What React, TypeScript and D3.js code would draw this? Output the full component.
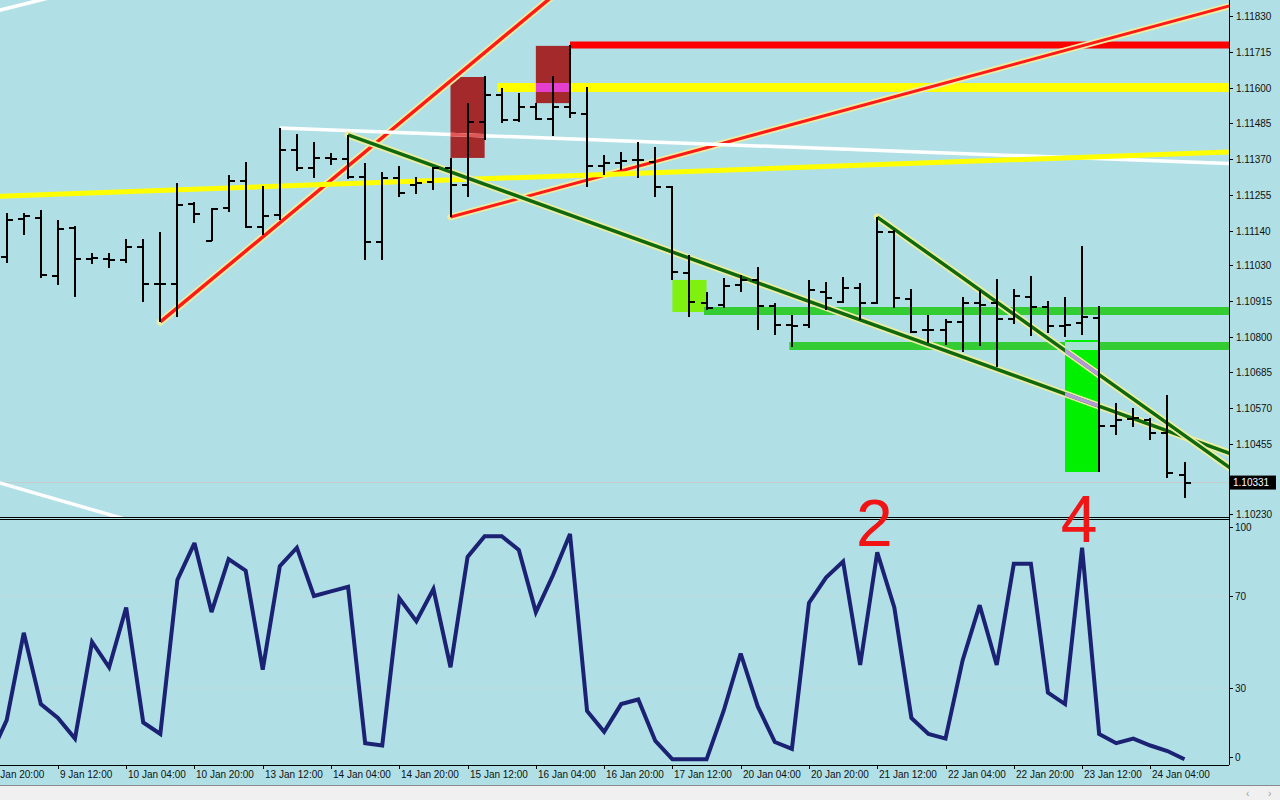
import React from 'react';
import * as d3 from 'd3';

// EURUSD H4 bars, 9 Jan 00:00 .. 24 Jan 08:00
const opens = [
  1.11056, 1.11178, 1.11181, 1.10995, 1.11149, 1.11049, 1.11049, 1.11046, 1.11088, 1.10969,
  1.10969, 1.11226, 1.11107, 1.11213, 1.11300, 1.11152, 1.11191, 1.11399, 1.11342, 1.11374,
  1.11371, 1.11313, 1.11104, 1.11310, 1.11287, 1.11297, 1.11342, 1.11287, 1.11489, 1.11576,
  1.11496, 1.11538, 1.11499, 1.11538, 1.11515, 1.11348, 1.11358, 1.11367, 1.11361, 1.11281,
  1.11004, 1.10908, 1.10901, 1.10966, 1.10982, 1.10898, 1.10837, 1.10837, 1.10943, 1.10911,
  1.10956, 1.10908, 1.11136, 1.10921, 1.10821, 1.10821, 1.10847, 1.10908, 1.10908, 1.10856,
  1.10927, 1.10895, 1.10834, 1.10844, 1.10860, 1.10513, 1.10535, 1.10532, 1.10490, 1.10355,
];
const highs = [
  1.11197, 1.11197, 1.11207, 1.11175, 1.11155, 1.11069, 1.11069, 1.11114, 1.11114, 1.11136,
  1.11293, 1.11232, 1.11213, 1.11319, 1.11361, 1.11284, 1.11470, 1.11451, 1.11425, 1.11390,
  1.11448, 1.11358, 1.11329, 1.11348, 1.11313, 1.11345, 1.11374, 1.11550, 1.11637, 1.11599,
  1.11583, 1.11550, 1.11637, 1.11737, 1.11602, 1.11383, 1.11393, 1.11425, 1.11409, 1.11284,
  1.11062, 1.10943, 1.10988, 1.10998, 1.11024, 1.10908, 1.10869, 1.10982, 1.10975, 1.10991,
  1.10972, 1.11184, 1.11142, 1.10953, 1.10869, 1.10856, 1.10927, 1.10950, 1.10985, 1.10953,
  1.10995, 1.10914, 1.10927, 1.11091, 1.10898, 1.10587, 1.10570, 1.10538, 1.10612, 1.10397,
];
const lows = [
  1.11036, 1.11126, 1.10988, 1.10966, 1.10927, 1.11033, 1.11020, 1.11036, 1.10911, 1.10847,
  1.10863, 1.11165, 1.11107, 1.11200, 1.11149, 1.11126, 1.11175, 1.11332, 1.11310, 1.11351,
  1.11306, 1.11046, 1.11046, 1.11248, 1.11258, 1.11271, 1.11184, 1.11248, 1.11432, 1.11486,
  1.11489, 1.11496, 1.11444, 1.11502, 1.11281, 1.11319, 1.11335, 1.11310, 1.11248, 1.10982,
  1.10863, 1.10885, 1.10892, 1.10943, 1.10821, 1.10805, 1.10766, 1.10828, 1.10885, 1.10908,
  1.10853, 1.10905, 1.10892, 1.10811, 1.10779, 1.10773, 1.10750, 1.10770, 1.10702, 1.10840,
  1.10802, 1.10811, 1.10799, 1.10805, 1.10365, 1.10484, 1.10509, 1.10468, 1.10346, 1.10281,
];
const closes = [
  1.11175, 1.11187, 1.10998, 1.11146, 1.11049, 1.11052, 1.11046, 1.11088, 1.10969, 1.10969,
  1.11223, 1.11194, 1.11210, 1.11300, 1.11152, 1.11187, 1.11399, 1.11342, 1.11374, 1.11371,
  1.11313, 1.11104, 1.11310, 1.11261, 1.11293, 1.11342, 1.11287, 1.11489, 1.11576, 1.11496,
  1.11538, 1.11499, 1.11538, 1.11518, 1.11348, 1.11358, 1.11364, 1.11367, 1.11281, 1.11007,
  1.10911, 1.10892, 1.10962, 1.10982, 1.10898, 1.10837, 1.10834, 1.10950, 1.10924, 1.10956,
  1.10908, 1.11136, 1.10924, 1.10815, 1.10821, 1.10847, 1.10908, 1.10901, 1.10856, 1.10930,
  1.10895, 1.10834, 1.10837, 1.10863, 1.10513, 1.10532, 1.10538, 1.10490, 1.10362, 1.10331,
];
const lastPrice = 1.10331;

// oscillator in the lower window; first value is the bar just left of the view
const stochStart = -1;
const stoch = [
  0,
  16, 54, 23, 17, 8, 50, 39, 65, 15, 10,
  77, 93, 63, 86, 81, 38, 83, 91, 70, 72,
  74, 6, 5, 69, 59, 73, 39, 87, 96, 96,
  90, 63, 79, 97, 20, 11, 23, 25, 7, -1,
  -1, -1, 20, 45, 22, 6.5, 3.5, 67, 78, 85,
  40, 89, 65, 17, 10, 8, 42, 66, 40, 84,
  84, 28, 23, 91, 10, 6, 8, 5, 2.6, -1,
];

const timeTickBars = [-1, 3, 7, 11, 15, 19, 23, 27, 31, 35, 39, 43, 47, 51, 55, 59, 63, 67];
const timeTickLabels = [
  '8 Jan 20:00', '9 Jan 12:00', '10 Jan 04:00', '10 Jan 20:00', '13 Jan 12:00', '14 Jan 04:00',
  '14 Jan 20:00', '15 Jan 12:00', '16 Jan 04:00', '16 Jan 20:00', '17 Jan 12:00', '20 Jan 04:00',
  '20 Jan 20:00', '21 Jan 12:00', '22 Jan 04:00', '22 Jan 20:00', '23 Jan 12:00', '24 Jan 04:00',
];
const priceTicks = [
  '1.11830', '1.11715', '1.11600', '1.11485', '1.11370', '1.11255', '1.11140',
  '1.11030', '1.10915', '1.10800', '1.10685', '1.10570', '1.10455', '1.10230',
];
const subTicks = [100, 70, 30, 0];
const subLevels = [70, 30];

// drawn objects, anchors are [bar index, price]
const trendNames = ['redUp', 'redSupport', 'whiteTop', 'whiteLow', 'whiteCorner', 'yellowSlope', 'greenFall', 'greenFast'];
const trendFrom = [[9, 1.10847], [26, 1.11184], [16, 1.1147], [-2, 1.10355], [-2, 1.11827], [-2, 1.11248], [20, 1.11448], [51, 1.11184]];
const trendTo = [[26.5, 1.11644], [71.6, 1.11862], [71.6, 1.11356], [6.52, 1.1022], [1.95, 1.11881], [71.6, 1.11393], [71.6, 1.10426], [71.6, 1.10381]];

const levelNames = ['resistance', 'supply', 'demandHi', 'demandLo'];
const levelPrice = [1.11737, 1.116, 1.10882, 1.1077];
const levelFromBar = [33, 28.75, 40.85, 45.85];

const boxNames = ['brownA', 'brownB', 'limeBox', 'greenBox'];
const boxFromBar = [26, 31, 39, 62];
const boxToBar = [28, 33, 41, 64];
const boxTop = [1.11634, 1.11734, 1.10982, 1.10789];
const boxBottom = [1.11374, 1.1155, 1.10879, 1.10365];

const markText = ['2', '4'];
const markBar = [51, 63];

const trendStyle: Record<string, { color: string; width: number; halo: boolean }> = {
  redUp: { color: '#ff1a1a', width: 3.5, halo: true },
  redSupport: { color: '#ff1a1a', width: 3, halo: true },
  whiteTop: { color: '#ffffff', width: 3.5, halo: false },
  whiteLow: { color: '#ffffff', width: 3.5, halo: false },
  whiteCorner: { color: '#ffffff', width: 3.5, halo: false },
  yellowSlope: { color: '#ffff00', width: 5, halo: false },
  greenFall: { color: '#0f6a0f', width: 3.5, halo: true },
  greenFast: { color: '#0f6a0f', width: 3.5, halo: true },
};
const levelStyle: Record<string, { color: string; width: number }> = {
  resistance: { color: '#ff0000', width: 7 },
  supply: { color: '#ffff00', width: 9 },
  demandHi: { color: '#33cc33', width: 8 },
  demandLo: { color: '#33cc33', width: 8 },
};
const boxColor: Record<string, string> = {
  brownA: '#a3292b',
  brownB: '#a3292b',
  limeBox: '#80f010',
  greenBox: '#00f000',
};

const BG = '#b0e0e6';
const FONT = "'Liberation Sans', Arial, sans-serif";

export default function App() {
  const W = 1280;
  const H = 800;
  const plotRight = 1229;
  const mainBottom = 517;
  const subTop = 519;
  const subBottom = 765;

  const x = d3.scaleLinear().domain([0, 69]).range([6.7, 1184.5]);
  const y = d3.scaleLinear().domain([1.1023, 1.1183]).range([514, 16]);
  const ys = d3.scaleLinear().domain([0, 100]).range([757, 527]);

  const seg = (k: number) => {
    const [i1, p1] = trendFrom[k];
    const [i2, p2] = trendTo[k];
    const x1 = x(i1), y1 = y(p1), x2 = x(i2), y2 = y(p2);
    const slope = (y2 - y1) / (x2 - x1);
    const xe = plotRight + 30;
    return { x1, y1, x2: xe, y2: y1 + slope * (xe - x1) };
  };

  const boxRect = (k: number) => ({
    x: x(boxFromBar[k]),
    y: y(boxTop[k]),
    width: x(boxToBar[k]) - x(boxFromBar[k]),
    height: y(boxBottom[k]) - y(boxTop[k]),
  });

  const barPath = opens
    .map((o, i) => {
      const cx = Math.round(x(i));
      return `M${cx},${y(highs[i])}V${y(lows[i])}M${cx - 6},${y(o)}H${cx}M${cx},${y(closes[i])}H${cx + 6}`;
    })
    .join('');

  const stochLine = d3
    .line<number>()
    .x((_, i) => x(i + stochStart))
    .y((d) => ys(d))(stoch);

  const idx = (name: string, list: string[]) => list.indexOf(name);
  const overlay = (k: number, color: string, width: number, clip: string) => {
    const s = seg(k);
    return <line x1={s.x1} y1={s.y1} x2={s.x2} y2={s.y2} stroke={color} strokeWidth={width} clipPath={`url(#${clip})`} />;
  };
  const levelOverlay = (k: number, color: string, clip: string) => (
    <line
      x1={x(levelFromBar[k])}
      x2={plotRight}
      y1={y(levelPrice[k])}
      y2={y(levelPrice[k])}
      stroke={color}
      strokeWidth={levelStyle[levelNames[k]].width}
      clipPath={`url(#${clip})`}
    />
  );

  const yLast = y(lastPrice);

  return (
    <div style={{ position: 'absolute', left: 0, top: 0 }}>
      <svg width={W} height={H} style={{ display: 'block', fontFamily: FONT }}>
        <defs>
          <clipPath id="mainClip">
            <rect x={0} y={0} width={plotRight} height={mainBottom} />
          </clipPath>
          <clipPath id="subClip">
            <rect x={0} y={subTop} width={plotRight} height={subBottom - subTop} />
          </clipPath>
          {boxNames.map((n, k) => (
            <clipPath id={`clip-${n}`} key={n}>
              <rect {...boxRect(k)} />
            </clipPath>
          ))}
        </defs>

        <rect x={0} y={0} width={W} height={H} fill={BG} />

        {/* main window */}
        <g clipPath="url(#mainClip)">
          <line x1={0} x2={plotRight} y1={yLast} y2={yLast} stroke="#c6cccc" strokeWidth={1} />

          {boxNames.map((n, k) => (
            <rect key={n} {...boxRect(k)} fill={boxColor[n]} />
          ))}

          {levelNames.map((n, k) => (
            <line
              key={n}
              x1={x(levelFromBar[k])}
              x2={plotRight}
              y1={y(levelPrice[k])}
              y2={y(levelPrice[k])}
              stroke={levelStyle[n].color}
              strokeWidth={levelStyle[n].width}
            />
          ))}

          {trendNames.map((n, k) => {
            const s = seg(k);
            const st = trendStyle[n];
            return (
              <g key={n}>
                {st.halo && (
                  <line x1={s.x1} y1={s.y1} x2={s.x2} y2={s.y2} stroke="#eeeea0" strokeWidth={st.width + 3.5} strokeLinecap="round" />
                )}
                <line x1={s.x1} y1={s.y1} x2={s.x2} y2={s.y2} stroke={st.color} strokeWidth={st.width} />
              </g>
            );
          })}

          {/* colours where objects overlap the filled boxes */}
          {overlay(idx('whiteTop', trendNames), '#e25656', 3.5, 'clip-brownA')}
          {levelOverlay(idx('supply', levelNames), '#e43fcf', 'clip-brownB')}
          {levelOverlay(idx('demandLo', levelNames), '#a6e2d4', 'clip-greenBox')}
          {overlay(idx('greenFall', trendNames), '#b39ad8', 3.5, 'clip-greenBox')}
          {overlay(idx('greenFast', trendNames), '#b39ad8', 3.5, 'clip-greenBox')}

          <path d={barPath} stroke="#000" strokeWidth={2} fill="none" shapeRendering="crispEdges" />
        </g>

        {/* lower window */}
        <g clipPath="url(#subClip)">
          {subLevels.map((v) => (
            <line key={v} x1={0} x2={plotRight} y1={ys(v)} y2={ys(v)} stroke="#c9d6d8" strokeDasharray="3,3" />
          ))}
          <path d={stochLine || ''} fill="none" stroke="#1b2173" strokeWidth={4} strokeLinejoin="miter" strokeMiterlimit={3} />
        </g>

        {/* window borders */}
        <line x1={0} x2={plotRight} y1={mainBottom} y2={mainBottom} stroke="#000" shapeRendering="crispEdges" />
        <line x1={0} x2={plotRight} y1={subTop} y2={subTop} stroke="#000" shapeRendering="crispEdges" />
        <line x1={plotRight} x2={plotRight} y1={0} y2={subBottom} stroke="#000" shapeRendering="crispEdges" />
        <line x1={0} x2={plotRight} y1={subBottom} y2={subBottom} stroke="#000" shapeRendering="crispEdges" />

        {/* price axis */}
        {priceTicks.map((t) => (
          <g key={t} transform={`translate(${plotRight},${Math.round(y(parseFloat(t)))})`}>
            <line x1={0} x2={4} stroke="#000" shapeRendering="crispEdges" />
            <text x={7} dy="0.35em" fontSize={10} fill="#111">{t}</text>
          </g>
        ))}
        <rect x={plotRight} y={yLast - 7} width={47} height={14} fill="#000" />
        <text x={plotRight + 4} y={yLast} dy="0.35em" fontSize={10} fill="#fff">{lastPrice.toFixed(5)}</text>

        {subTicks.map((t) => (
          <g key={t} transform={`translate(${plotRight},${Math.round(ys(t))})`}>
            <line x1={0} x2={4} stroke="#000" shapeRendering="crispEdges" />
            <text x={6} dy="0.35em" fontSize={10} fill="#111">{t}</text>
          </g>
        ))}

        {/* time axis */}
        {timeTickBars.map((b, k) => {
          const tx = Math.round(x(b));
          return (
            <g key={b}>
              <line x1={tx} x2={tx} y1={subBottom} y2={subBottom + 4} stroke="#000" shapeRendering="crispEdges" />
              <text x={tx + 2} y={778} fontSize={10} fill="#111">{timeTickLabels[k]}</text>
            </g>
          );
        })}

        {/* wave labels */}
        {markText.map((t, k) => (
          <text
            key={t}
            x={x(markBar[k]) - 3}
            y={ys(stoch[markBar[k] - stochStart]) - 6}
            textAnchor="middle"
            fontSize={66}
            fill="#f01414"
          >
            {t}
          </text>
        ))}

        {/* scroll strip */}
        <rect x={0} y={785} width={W} height={15} fill="#f0f0f0" />
        <line x1={0} x2={W} y1={785} y2={785} stroke="#8a8a8a" shapeRendering="crispEdges" />
        <text x={1246} y={797} fontSize={10} fill="#9a9a9a">‹</text>
        <text x={1268} y={797} fontSize={10} fill="#9a9a9a">›</text>
      </svg>
    </div>
  );
}
